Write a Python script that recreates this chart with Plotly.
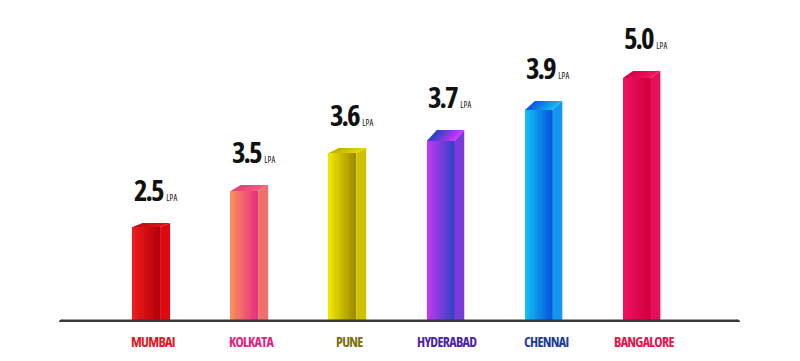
import plotly.graph_objects as go

# ---------------- data ----------------
cities = ["MUMBAI", "KOLKATA", "PUNE", "HYDERABAD", "CHENNAI", "BANGALORE"]
salary_lpa = [2.5, 3.5, 3.6, 3.7, 3.9, 5.0]
# drawn bar heights (the artwork is not to scale)
bar_heights = [1.90, 2.62, 3.38, 3.62, 4.24, 4.88]
unit_label = "LPA"

# ---------------- style ----------------
front_left = ["#ee1c1c", "#f98c5c", "#ede500", "#c437f3", "#12c0f2", "#f20f62"]
front_right = ["#b3000b", "#e83183", "#9e8c00", "#3243c6", "#0658df", "#cf0040"]
side_col = ["#dd0a12", "#ef6f6a", "#cfc000", "#7b3bd8", "#1496f0", "#e6105a"]
top_left = ["#c00a10", "#e6407a", "#c0b000", "#3040cc", "#0a5ee0", "#d60048"]
top_right = ["#dc1018", "#f0607e", "#e0d600", "#c834f2", "#12b4f2", "#f21462"]
label_col = ["#e8141c", "#e6207b", "#7d6d12", "#4a1fae", "#1a3a9c", "#e8104c"]
top_depth = [0.08, 0.12, 0.10, 0.22, 0.18, 0.14]   # slant of top face (y units)

FRONT = 0.28   # front face width (x units)
SIDE = 0.102   # side face width
W = FRONT + SIDE
N_STRIPS = 12
N_TOP = 6
FONT = "Open Sans, Roboto, DejaVu Sans Condensed, sans-serif"
NUM_STYLE = "font-stretch:condensed;font-weight:bold;letter-spacing:-2px"
UNIT_STYLE = "font-size:8.5px;font-stretch:condensed;font-weight:normal;letter-spacing:0.2px"
CAT_STYLE = "font-stretch:condensed;font-weight:bold;letter-spacing:-0.7px"


def mix(c1, c2, t):
    a = [int(c1[i:i + 2], 16) for i in (1, 3, 5)]
    b = [int(c2[i:i + 2], 16) for i in (1, 3, 5)]
    return "#%02x%02x%02x" % tuple(round(a[k] + (b[k] - a[k]) * t) for k in range(3))


xs = list(range(len(cities)))
fig = go.Figure()

# front faces as gradient strips
sw = FRONT / N_STRIPS
for k in range(N_STRIPS):
    t = k / (N_STRIPS - 1)
    fig.add_trace(go.Bar(
        x=[i - W / 2 + (k + 0.5) * sw for i in xs],
        y=bar_heights,
        width=sw * 1.25,
        marker=dict(color=[mix(front_left[j], front_right[j], t) for j in range(len(xs))],
                    line=dict(width=0)),
        hoverinfo="skip", showlegend=False,
    ))

# side and top faces
tw = FRONT / N_TOP
for j, i in enumerate(xs):
    h = bar_heights[j]
    d = top_depth[j]
    xl = i - W / 2
    xr = xl + FRONT
    fig.add_trace(go.Scatter(
        x=[xr, xr + SIDE, xr + SIDE, xr, xr], y=[0, 0, h + d, h, 0],
        fill="toself", fillcolor=side_col[j], mode="lines", line=dict(width=0),
        hoverinfo="skip", showlegend=False))
    for k in range(N_TOP):
        a = xl + k * tw
        b = xl + (k + 1) * tw + (tw * 0.3 if k < N_TOP - 1 else 0)
        c = mix(top_left[j], top_right[j], k / (N_TOP - 1))
        fig.add_trace(go.Scatter(
            x=[a, a + SIDE, b + SIDE, b, a], y=[h, h + d, h + d, h, h],
            fill="toself", fillcolor=c, mode="lines", line=dict(width=0),
            hoverinfo="skip", showlegend=False))

    # value label
    fig.add_annotation(
        x=xl - 0.01, y=h + d, xref="x", yref="y", xanchor="left", yanchor="bottom",
        yshift=12, showarrow=False,
        text=(f"<span style='{NUM_STYLE}'>{salary_lpa[j]:.1f}</span>"
              f"<span style='{UNIT_STYLE}'>&nbsp;&nbsp;{unit_label}</span>"),
        font=dict(family=FONT, size=29, color="#111111"))
    # category label
    fig.add_annotation(
        x=i + 0.02, y=0, xref="x", yref="y", xanchor="center", yanchor="middle",
        yshift=-19.5, showarrow=False,
        text=f"<span style='{CAT_STYLE}'>{cities[j]}</span>",
        font=dict(family=FONT, size=14, color=label_col[j]))

# baseline with rounded ends
BASE_X0, BASE_X1 = 0.0669, 0.9119
fig.add_shape(type="line", xref="paper", yref="y", x0=BASE_X0, x1=BASE_X1, y0=0, y1=0,
              line=dict(color="#3a3b3c", width=5))
for xa in (BASE_X0, BASE_X1):
    fig.add_shape(type="circle", xref="paper", yref="y", xsizemode="pixel", ysizemode="pixel",
                  xanchor=xa, yanchor=0, x0=-2.5, x1=2.5, y0=-2.5, y1=2.5,
                  fillcolor="#3a3b3c", line=dict(width=0))

# page body has an 8px margin, so the frame is laid out 8px up/left
fig.update_layout(
    width=800, height=361, barmode="overlay", bargap=0,
    margin=dict(l=0, r=0, t=0, b=47),
    paper_bgcolor="white", plot_bgcolor="white",
    xaxis=dict(range=[-1.4619, 6.6964], visible=False, fixedrange=True),
    yaxis=dict(range=[0, 6.28], visible=False, fixedrange=True),
    showlegend=False,
)

fig.write_html("out.html")
